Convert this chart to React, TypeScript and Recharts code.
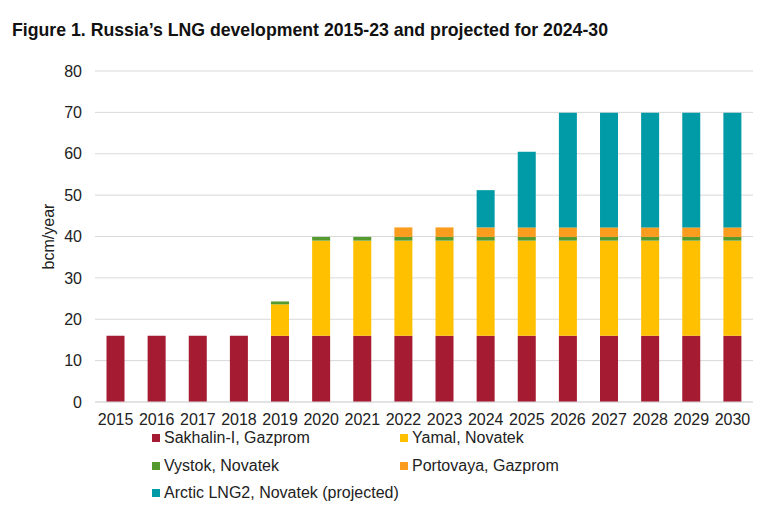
import React from 'react';
import { BarChart, Bar, XAxis, YAxis, CartesianGrid } from 'recharts';

const years = ['2015', '2016', '2017', '2018', '2019', '2020', '2021', '2022', '2023', '2024', '2025', '2026', '2027', '2028', '2029', '2030'];
const sakhalin = [16, 16, 16, 16, 16, 16, 16, 16, 16, 16, 16, 16, 16, 16, 16, 16];
const yamal = [0, 0, 0, 0, 7.6, 23, 23, 23, 23, 23, 23, 23, 23, 23, 23, 23];
const vystok = [0, 0, 0, 0, 0.7, 0.9, 0.9, 0.9, 0.9, 0.9, 0.9, 0.9, 0.9, 0.9, 0.9, 0.9];
const portovaya = [0, 0, 0, 0, 0, 0, 0, 2.3, 2.3, 2.3, 2.3, 2.3, 2.3, 2.3, 2.3, 2.3];
const arctic = [0, 0, 0, 0, 0, 0, 0, 0, 0, 9, 18.3, 27.7, 27.7, 27.7, 27.7, 27.7];
const yTicks = [0, 10, 20, 30, 40, 50, 60, 70, 80];

const data = years.map((year, i) => ({
  year,
  sakhalin: sakhalin[i],
  yamal: yamal[i],
  vystok: vystok[i],
  portovaya: portovaya[i],
  arctic: arctic[i],
}));

const series = [
  { key: 'sakhalin', name: 'Sakhalin-I, Gazprom', color: '#A51B31' },
  { key: 'yamal', name: 'Yamal, Novatek', color: '#FFC000' },
  { key: 'vystok', name: 'Vystok, Novatek', color: '#559A2E' },
  { key: 'portovaya', name: 'Portovaya, Gazprom', color: '#FA9D1F' },
  { key: 'arctic', name: 'Arctic LNG2, Novatek (projected)', color: '#009BA6' },
];

const font = 'Arial, "Liberation Sans", sans-serif';

function LegendItem({ name, color, left, top }: { name: string; color: string; left: number; top: number }) {
  return (
    <div style={{ position: 'absolute', left, top, display: 'flex', alignItems: 'center', fontSize: 16, lineHeight: '16px', color: '#222', whiteSpace: 'nowrap' }}>
      <span style={{ display: 'inline-block', width: 8, height: 8, background: color, marginRight: 4 }} />
      {name}
    </div>
  );
}

export default function App() {
  return (
    <div style={{ position: 'absolute', left: 0, top: 0, width: 768, height: 507, background: '#fff', fontFamily: font }}>
      <div style={{ position: 'absolute', left: 12, top: 20, fontSize: 17.7, lineHeight: '20px', fontWeight: 'bold', color: '#111', whiteSpace: 'nowrap' }}>
        Figure 1. Russia’s LNG development 2015-23 and projected for 2024-30
      </div>
      <BarChart
        width={768}
        height={432}
        data={data}
        margin={{ top: 71, right: 15, bottom: 0, left: 20 }}
        barCategoryGap="28%"
      >
        <CartesianGrid vertical={false} stroke="#d9d9d9" />
        <XAxis
          dataKey="year"
          tickLine={false}
          tickSize={0}
          tickMargin={12}
          axisLine={{ stroke: '#d9d9d9' }}
          tick={{ fontSize: 16, fill: '#222', fontFamily: font }}
          interval={0}
          height={30}
        />
        <YAxis
          domain={[0, 80]}
          ticks={yTicks}
          width={75}
          tickLine={false}
          axisLine={false}
          tickSize={0}
          tickMargin={13}
          tick={{ fontSize: 16, fill: '#222', fontFamily: font }}
          label={{ value: 'bcm/year', angle: -90, position: 'insideLeft', offset: 28, style: { fontSize: 16, fill: '#222', fontFamily: font, textAnchor: 'middle' } }}
        />
        {series.map((s) => (
          <Bar key={s.key} dataKey={s.key} name={s.name} stackId="a" fill={s.color} isAnimationActive={false} />
        ))}
      </BarChart>
      <LegendItem name={series[0].name} color={series[0].color} left={152} top={430} />
      <LegendItem name={series[1].name} color={series[1].color} left={400} top={430} />
      <LegendItem name={series[2].name} color={series[2].color} left={152} top={458} />
      <LegendItem name={series[3].name} color={series[3].color} left={400} top={458} />
      <LegendItem name={series[4].name} color={series[4].color} left={152} top={485} />
    </div>
  );
}
